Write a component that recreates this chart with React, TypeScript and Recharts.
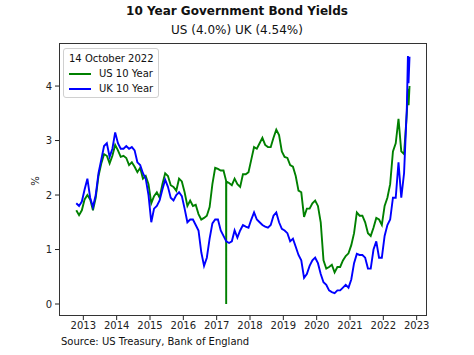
import React from "react";
import { LineChart, Line, XAxis, YAxis } from "recharts";

// Monthly observation dates (mid-month), Oct 2012 .. Sep 2022
const monthDates: string[] = (() => {
  const out: string[] = [];
  let y = 2012;
  let m = 10;
  while (y < 2022 || (y === 2022 && m <= 9)) {
    out.push(`${y}-${String(m).padStart(2, "0")}-15`);
    m++;
    if (m > 12) {
      m = 1;
      y++;
    }
  }
  return out;
})();

// US 10 Year yield (%), one value per month
const usYield: number[] = [
  1.72, 1.63, 1.72,
  1.92, 2.0, 1.92, 1.72, 1.95, 2.35, 2.58, 2.75, 2.72, 2.58, 2.72, 2.92,
  2.82, 2.7, 2.72, 2.68, 2.55, 2.6, 2.52, 2.42, 2.5, 2.3, 2.35, 2.2,
  1.85, 1.98, 2.05, 1.95, 2.2, 2.4, 2.35, 2.18, 2.15, 2.08, 2.3, 2.25,
  2.05, 1.8, 1.9, 1.8, 1.82, 1.65, 1.55, 1.58, 1.62, 1.78, 2.2, 2.5,
  2.48, 2.45, 2.45, 2.25, 2.22, 2.18, 2.3, 2.2, 2.15, 2.38, 2.38, 2.42,
  2.65, 2.88, 2.85, 2.95, 3.05, 2.92, 2.88, 2.88, 3.05, 3.2, 3.1, 2.8,
  2.7, 2.68, 2.55, 2.52, 2.35, 2.08, 2.05, 1.6, 1.75, 1.75, 1.85, 1.9,
  1.8, 1.5, 0.8, 0.65, 0.68, 0.72, 0.58, 0.68, 0.68, 0.8, 0.88, 0.93,
  1.08, 1.3, 1.68, 1.62, 1.62, 1.5, 1.3, 1.25, 1.4, 1.58, 1.55, 1.45,
  1.8, 1.95, 2.2, 2.8, 2.95, 3.4, 2.8, 2.75, 3.5,
];

// UK 10 Year yield (%), one value per month
const ukYield: number[] = [
  1.85, 1.8, 1.88,
  2.1, 2.3, 1.95, 1.78, 2.0, 2.4, 2.65, 2.9, 2.95, 2.7, 2.85, 3.15,
  2.95, 2.85, 2.85, 2.9, 2.85, 2.88, 2.82, 2.6, 2.55, 2.4, 2.3, 2.0,
  1.5, 1.75, 1.8, 1.9, 2.1, 2.28, 2.15, 1.95, 1.9, 2.0, 2.05, 1.98,
  1.75, 1.5, 1.55, 1.55, 1.45, 1.35, 0.95, 0.7, 0.85, 1.2, 1.48, 1.55,
  1.55, 1.35, 1.25, 1.15, 1.12, 1.15, 1.35, 1.22, 1.35, 1.45, 1.42, 1.4,
  1.55, 1.68, 1.55, 1.5, 1.45, 1.42, 1.4, 1.45, 1.62, 1.68, 1.5, 1.38,
  1.35, 1.3, 1.15, 1.2, 1.05, 0.9, 0.8, 0.48, 0.55, 0.7, 0.8, 0.85,
  0.75, 0.55, 0.4, 0.35, 0.25, 0.22, 0.2, 0.25, 0.25, 0.3, 0.35, 0.3,
  0.45, 0.75, 0.92, 0.9, 0.9, 0.85, 0.65, 0.65, 1.0, 1.15, 0.85, 0.85,
  1.25, 1.45, 1.55, 1.95, 1.95, 2.6, 1.95, 2.4, 3.6,
];

// Extra daily observations
const usExtraDates: string[] = ["2017-04-13", "2017-04-14", "2022-09-28", "2022-10-04", "2022-10-14"];
const usExtraValues: number[] = [2.26, 0.0, 3.95, 3.65, 4.0];
const ukExtraDates: string[] = ["2022-09-27", "2022-10-03", "2022-10-14"];
const ukExtraValues: number[] = [4.55, 4.05, 4.54];

const xTicks: number[] = [2013, 2014, 2015, 2016, 2017, 2018, 2019, 2020, 2021, 2022, 2023];
const yTicks: number[] = [0, 1, 2, 3, 4];

const toYear = (d: string): number => {
  const [y, m, dd] = d.split("-").map(Number);
  return y + (m - 1) / 12 + (dd - 1) / 365;
};

type Row = { x: number; us?: number; uk?: number };

const buildData = (): Row[] => {
  const map = new Map<number, Row>();
  const put = (d: string, key: "us" | "uk", v: number) => {
    const x = toYear(d);
    const row = map.get(x) || { x };
    row[key] = v;
    map.set(x, row);
  };
  monthDates.forEach((d, i) => {
    put(d, "us", usYield[i]);
    put(d, "uk", ukYield[i]);
  });
  usExtraDates.forEach((d, i) => put(d, "us", usExtraValues[i]));
  ukExtraDates.forEach((d, i) => put(d, "uk", ukExtraValues[i]));
  return Array.from(map.values()).sort((a, b) => a.x - b.x);
};

const data = buildData();

const FONT = "'DejaVu Sans', sans-serif";
const GREEN = "#008000";
const BLUE = "#0000ff";

export default function App() {
  return (
    <div style={{ position: "absolute", left: 0, top: 0, width: 474, height: 355, background: "#fff", fontFamily: FONT, color: "#111" }}>
      <div style={{ position: "absolute", left: 0, width: 474, top: 4, textAlign: "center", fontSize: 12, fontWeight: "bold", lineHeight: "14px" }}>
        10 Year Government Bond Yields
      </div>
      <div style={{ position: "absolute", left: 0, width: 474, top: 23, textAlign: "center", fontSize: 12, lineHeight: "14px" }}>
        US (4.0%) UK (4.54%)
      </div>
      <LineChart width={474} height={355} data={data} margin={{ top: 43, right: 47, left: 0, bottom: 0 }}>
        <XAxis
          dataKey="x"
          type="number"
          domain={[2012.27, 2023.31]}
          ticks={xTicks}
          allowDataOverflow
          height={39}
          axisLine={false}
          tickLine={{ stroke: "#222" }}
          tickSize={4}
          tickMargin={2}
          tick={{ fontSize: 10, fill: "#222", fontFamily: FONT }}
          interval={0}
        />
        <YAxis
          type="number"
          domain={[-0.22, 4.79]}
          ticks={yTicks}
          allowDataOverflow
          width={59}
          axisLine={false}
          tickLine={{ stroke: "#222" }}
          tickSize={4}
          tickMargin={3}
          tick={{ fontSize: 10, fill: "#222", fontFamily: FONT }}
          interval={0}
        />
        <Line dataKey="us" stroke={GREEN} strokeWidth={1.9} dot={false} connectNulls isAnimationActive={false} />
        <Line dataKey="uk" stroke={BLUE} strokeWidth={1.9} dot={false} connectNulls isAnimationActive={false} />
      </LineChart>
      <div style={{ position: "absolute", left: 59, top: 43, width: 368, height: 273, border: "1px solid #333", boxSizing: "border-box", pointerEvents: "none" }} />
      <div style={{ position: "absolute", left: 29, top: 174, width: 14, height: 14, fontSize: 10, textAlign: "center", lineHeight: "14px", transform: "rotate(-90deg)" }}>%</div>
      <div style={{ position: "absolute", left: 63, top: 48, width: 96, height: 50, border: "1px solid #d0d0d0", borderRadius: 3, boxSizing: "border-box", background: "rgba(255,255,255,0.85)", fontSize: 10, lineHeight: "15px" }}>
        <div style={{ position: "absolute", left: 5, top: 2 }}>14 October 2022</div>
        <div style={{ position: "absolute", left: 5, top: 17, width: 22, height: 0, borderTop: `2px solid ${GREEN}`, marginTop: 7 }} />
        <div style={{ position: "absolute", left: 35, top: 17 }}>US 10 Year</div>
        <div style={{ position: "absolute", left: 5, top: 32, width: 22, height: 0, borderTop: `2px solid ${BLUE}`, marginTop: 7 }} />
        <div style={{ position: "absolute", left: 35, top: 32 }}>UK 10 Year</div>
      </div>
      <div style={{ position: "absolute", left: 61, top: 335, fontSize: 10, lineHeight: "14px" }}>Source: US Treasury, Bank of England</div>
    </div>
  );
}
